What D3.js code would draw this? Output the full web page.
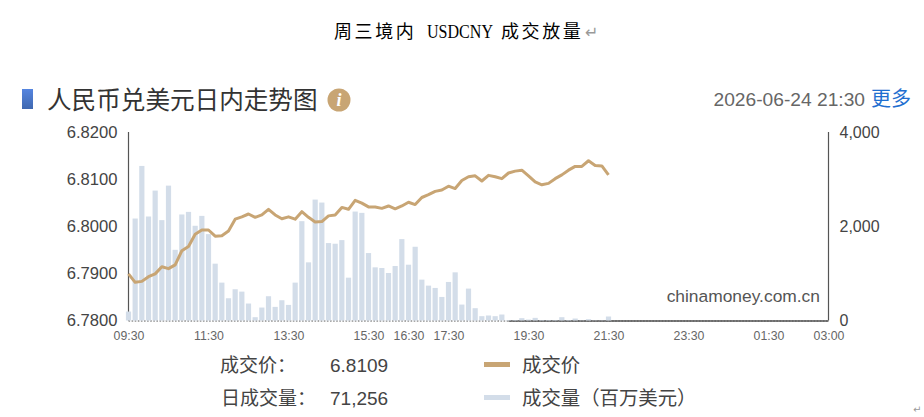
<!DOCTYPE html>
<html>
<head>
<meta charset="utf-8">
<script src="https://cdn.jsdelivr.net/npm/d3@7/dist/d3.min.js"></script>
<style>
html, body { margin: 0; padding: 0; background: #fff; }
svg { display: block; }
text { font-family: Arial, "Liberation Sans", "Noto Sans CJK SC", sans-serif; }
</style>
</head>
<body>
<svg id="chart" width="924" height="417"></svg>
<script>
// Ten-minute sessions from 09:30; minutes are counted from the session open.
const priceValues = [
  6.7899, 6.7881, 6.7883, 6.7893, 6.7899, 6.7914, 6.7910, 6.7918, 6.7948, 6.7957,
  6.7983, 6.7992, 6.7992, 6.7979, 6.7980, 6.7990, 6.8015, 6.8020, 6.8026, 6.8019,
  6.8024, 6.8036, 6.8024, 6.8016, 6.8020, 6.8015, 6.8031, 6.8019, 6.8009, 6.8010,
  6.8022, 6.8024, 6.8040, 6.8036, 6.8055, 6.8049, 6.8041, 6.8041, 6.8038, 6.8043,
  6.8037, 6.8043, 6.8051, 6.8046, 6.8061, 6.8067, 6.8074, 6.8077, 6.8085, 6.8080,
  6.8097, 6.8105, 6.8107, 6.8096, 6.8108, 6.8105, 6.8101, 6.8113, 6.8117, 6.8119,
  6.8107, 6.8094, 6.8088, 6.8091, 6.8101, 6.8109, 6.8119, 6.8127, 6.8127, 6.8139,
  6.8129, 6.8128, 6.8109
];
const volumeValues = [
  190, 2164, 3280, 2207, 2757, 2130, 2862, 1500, 2250, 2305,
  2010, 2220, 1833, 1206, 804, 472, 663, 613, 360, 70,
  275, 515, 289, 430, 331, 804, 2108, 1234, 2566, 2503,
  1643, 1629, 1706, 909, 2312, 2284, 1431, 1128, 1114, 1008,
  1156, 1727, 1184, 1565, 867, 740, 691, 500, 818, 1022,
  338, 677, 261, 92, 106, 92, 127, 10, 10, 50,
  20, 56, 10, 10, 10, 70, 10, 42, 5, 28,
  5, 5, 85
];
const timeTicks = [
  { minute: 0, label: "09:30" }, { minute: 120, label: "11:30" },
  { minute: 240, label: "13:30" }, { minute: 360, label: "15:30" },
  { minute: 420, label: "16:30" }, { minute: 480, label: "17:30" },
  { minute: 600, label: "19:30" }, { minute: 720, label: "21:30" },
  { minute: 840, label: "23:30" }, { minute: 960, label: "01:30" },
  { minute: 1050, label: "03:00" }
];
const priceTicks = [6.78, 6.79, 6.80, 6.81, 6.82];
const volumeTicks = [0, 2000, 4000];
const stepMinutes = 10;

const goldColor = "#c8a574", barColor = "#d3dde9", axisColor = "#555555", textColor = "#444444";

const svg = d3.select("#chart");
const x = d3.scaleLinear().domain([0, 1050]).range([128.5, 828.5]);
const yPrice = d3.scaleLinear().domain([6.78, 6.82]).range([320.5, 132]);
const yVolume = d3.scaleLinear().domain([0, 4000]).range([320.5, 132]);

// Document heading above the panel
const headCjk = s => s.style("font-family", '"Noto Sans CJK SC"').style("font-size", "18px")
  .style("letter-spacing", "2.6px").style("fill", "#000");
svg.append("text").attr("x", 334).attr("y", 38).call(headCjk).text("周三境内");
svg.append("text").attr("x", 427).attr("y", 38)
  .attr("textLength", 66).attr("lengthAdjust", "spacingAndGlyphs")
  .style("font-family", '"Liberation Serif"').style("font-size", "19px").style("fill", "#000").text("USDCNY");
svg.append("text").attr("x", 501).attr("y", 38).call(headCjk).text("成交放量");
svg.append("text").attr("x", 585).attr("y", 38)
  .style("font-family", '"DejaVu Sans"').style("font-size", "16px").style("fill", "#999").text("↵");

// Panel header
const gradient = svg.append("defs").append("linearGradient")
  .attr("id", "markerFill").attr("x1", 0).attr("x2", 0).attr("y1", 0).attr("y2", 1);
gradient.append("stop").attr("offset", 0).attr("stop-color", "#5585e0");
gradient.append("stop").attr("offset", 1).attr("stop-color", "#3f68b0");
svg.append("rect").attr("x", 22).attr("y", 89).attr("width", 11).attr("height", 20).attr("fill", "url(#markerFill)");
svg.append("text").attr("x", 47).attr("y", 109).style("font-size", "24.6px").style("fill", "#333").text("人民币兑美元日内走势图");
svg.append("circle").attr("cx", 339).attr("cy", 100).attr("r", 11.5).attr("fill", goldColor);
svg.append("text").attr("x", 339).attr("y", 106).attr("text-anchor", "middle")
  .style("font-family", '"Liberation Serif"').style("font-size", "18px").style("font-weight", "bold").style("font-style", "italic").style("fill", "#fff").text("i");
svg.append("text").attr("x", 865).attr("y", 106).attr("text-anchor", "end").style("font-size", "19.2px").style("fill", "#666").text("2026-06-24 21:30");
svg.append("text").attr("x", 911).attr("y", 106).attr("text-anchor", "end").style("font-size", "20px").style("fill", "#1f6fd0").text("更多");

// Frame first so the volume bars can cover the foot of the left rule
const frame = svg.append("g").attr("stroke", axisColor).attr("fill", "none");
frame.append("line").attr("x1", x(0)).attr("x2", x(0)).attr("y1", yPrice(6.82)).attr("y2", yPrice(6.78)).attr("stroke-width", 1.2);
frame.append("line").attr("x1", x(1050)).attr("x2", x(1050)).attr("y1", yPrice(6.82)).attr("y2", yPrice(6.78)).attr("stroke-width", 1.2);
const axisY = yPrice(6.78) + 0.5;
frame.append("line").attr("x1", x(0)).attr("x2", x(1050)).attr("y1", axisY).attr("y2", axisY)
  .attr("stroke-width", 1).attr("stroke-dasharray", "1.6 1.5");
frame.append("line").attr("x1", x(570)).attr("x2", x(1050)).attr("y1", axisY).attr("y2", axisY).attr("stroke-width", 1.3);

// Volume bars sit behind the price line
svg.append("g").selectAll("rect").data(volumeValues).join("rect")
  .attr("x", (d, i) => x(i * stepMinutes) - 2.6)
  .attr("width", 5.2)
  .attr("y", d => yVolume(d))
  .attr("height", d => yVolume(0) - yVolume(d))
  .attr("fill", barColor);

const xAxis = d3.axisBottom(x).tickValues(timeTicks.map(d => d.minute))
  .tickFormat(m => timeTicks.find(d => d.minute === m).label).tickSize(0).tickPadding(11);
const xG = svg.append("g").attr("transform", `translate(0,${yPrice(6.78)})`).call(xAxis);
xG.select(".domain").remove();
xG.selectAll("text").style("font-size", "12.3px").style("font-family", "Arial, 'Liberation Sans'").style("fill", "#666");

const leftAxis = d3.axisLeft(yPrice).tickValues(priceTicks).tickFormat(d3.format(".4f")).tickSize(0).tickPadding(11);
const leftG = svg.append("g").attr("transform", `translate(${x(0)},0)`).call(leftAxis);
leftG.select(".domain").remove();
leftG.selectAll("text").style("font-size", "16.6px").style("font-family", "Arial, 'Liberation Sans'").style("fill", textColor);

const rightAxis = d3.axisRight(yVolume).tickValues(volumeTicks).tickFormat(d3.format(",")).tickSize(0).tickPadding(11);
const rightG = svg.append("g").attr("transform", `translate(${x(1050)},0)`).call(rightAxis);
rightG.select(".domain").remove();
rightG.selectAll("text").style("font-size", "16px").style("font-family", "Arial, 'Liberation Sans'").style("fill", textColor);

// Price line
const priceLine = d3.line().x((d, i) => x(i * stepMinutes)).y(d => yPrice(d));
svg.append("path").datum(priceValues).attr("d", priceLine)
  .attr("fill", "none").attr("stroke", goldColor).attr("stroke-width", 3).attr("stroke-linejoin", "round");

// Watermark
svg.append("text").attr("x", 820).attr("y", 302).attr("text-anchor", "end")
  .style("font-size", "17.4px").style("fill", "#555").text("chinamoney.com.cn");

// Summary readouts and legend
const bodyText = s => s.style("font-size", "19px").style("fill", textColor);
svg.append("text").attr("x", 220).attr("y", 372).call(bodyText).text("成交价：");
svg.append("text").attr("x", 330).attr("y", 372).call(bodyText).text("6.8109");
svg.append("text").attr("x", 221).attr("y", 405).style("font-size", "19px").style("fill", textColor).text("日成交量：");
svg.append("text").attr("x", 330).attr("y", 405).call(bodyText).text("71,256");
svg.append("rect").attr("x", 484).attr("y", 362).attr("width", 26).attr("height", 5).attr("fill", goldColor);
svg.append("rect").attr("x", 484).attr("y", 395).attr("width", 26).attr("height", 5).attr("fill", barColor);
svg.append("text").attr("x", 522).attr("y", 372).style("font-size", "19.4px").style("fill", textColor).text("成交价");
svg.append("text").attr("x", 522).attr("y", 405).style("font-size", "19.4px").style("fill", textColor).text("成交量（百万美元）");

// Small return glyph in the lower right corner
svg.append("text").attr("x", 913).attr("y", 413).style("font-family", '"DejaVu Sans"').style("font-size", "10px").style("fill", "#999").text("↵");
</script>
</body>
</html>
